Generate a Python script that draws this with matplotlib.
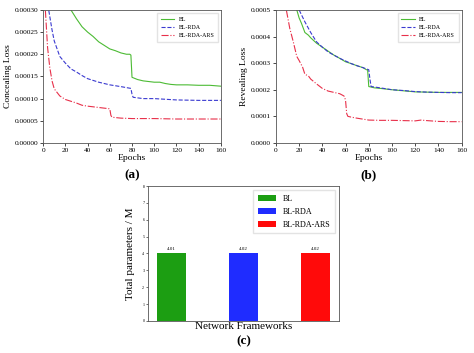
import numpy as np
import matplotlib
matplotlib.use("Agg")
import matplotlib.pyplot as plt

plt.rcParams['font.family'] = ['Liberation Serif', 'DejaVu Serif']

labels = ["BL", "BL-RDA", "BL-RDA-ARS"]

# (a) concealing loss
conc_bl_x = [1, 10, 20, 25, 30, 35, 40, 45, 50, 55, 60, 65, 70, 75, 78, 79, 80, 85, 90, 100, 105, 110, 115, 120, 130, 140, 150, 155, 160]
conc_bl_y = [0.00060, 0.00042, 0.00033, 0.000300, 0.000280, 0.000262, 0.000250, 0.000240, 0.000228, 0.000220, 0.000212, 0.000208, 0.000203, 0.000200, 0.000200, 0.000198, 0.000148, 0.000143, 0.000140, 0.000137, 0.000137, 0.000134, 0.000132, 0.000131, 0.000131, 0.000130, 0.000130, 0.000129, 0.000128]
conc_rda_x = [1, 3, 5, 8, 10, 15, 20, 25, 30, 35, 40, 50, 60, 70, 79, 80, 81, 90, 100, 120, 140, 160]
conc_rda_y = [0.00040, 0.00033, 0.000300, 0.000255, 0.000230, 0.000195, 0.000180, 0.000167, 0.000160, 0.000152, 0.000145, 0.000137, 0.000131, 0.000127, 0.000123, 0.000110, 0.000103, 0.000100, 0.000100, 0.000097, 0.000096, 0.000096]
conc_ars_x = [1, 2, 4, 6, 8, 10, 15, 20, 25, 30, 35, 40, 50, 60, 61, 62, 70, 80, 100, 120, 140, 160]
conc_ars_y = [0.00036, 0.000300, 0.000215, 0.000170, 0.000140, 0.000122, 0.000106, 0.000098, 0.000094, 0.000090, 0.000085, 0.000083, 0.000080, 0.000077, 0.000062, 0.000058, 0.000056, 0.000055, 0.000055, 0.000054, 0.000054, 0.000054]

# (b) revealing loss
rev_bl_x = [1, 10, 18, 20, 22, 25, 28, 30, 35, 40, 45, 50, 55, 60, 65, 70, 75, 78, 79, 80, 85, 90, 100, 110, 120, 130, 140, 150, 160]
rev_bl_y = [0.00080, 0.00060, 0.000500, 0.000470, 0.000450, 0.000415, 0.000405, 0.000395, 0.000375, 0.000360, 0.000345, 0.000330, 0.000318, 0.000305, 0.000298, 0.000290, 0.000283, 0.000275, 0.000275, 0.000212, 0.000207, 0.000205, 0.000200, 0.000196, 0.000192, 0.000191, 0.000190, 0.000190, 0.000190]
rev_rda_x = [1, 10, 20, 25, 30, 35, 40, 45, 50, 55, 60, 65, 70, 75, 80, 81, 82, 90, 100, 110, 120, 130, 140, 150, 160]
rev_rda_y = [0.00080, 0.00062, 0.000500, 0.000455, 0.000415, 0.000380, 0.000360, 0.000342, 0.000330, 0.000318, 0.000308, 0.000298, 0.000290, 0.000283, 0.000275, 0.000240, 0.000212, 0.000207, 0.000200, 0.000197, 0.000193, 0.000191, 0.000190, 0.000189, 0.000189]
rev_ars_x = [1, 5, 9, 12, 15, 18, 20, 23, 25, 28, 30, 35, 40, 45, 50, 55, 58, 59, 60, 61, 62, 65, 70, 80, 90, 100, 110, 120, 125, 130, 140, 150, 160]
rev_ars_y = [0.00080, 0.00062, 0.000500, 0.000430, 0.000380, 0.000325, 0.000310, 0.000285, 0.000258, 0.000252, 0.000240, 0.000222, 0.000205, 0.000195, 0.000190, 0.000185, 0.000178, 0.000175, 0.000160, 0.000110, 0.000100, 0.000097, 0.000093, 0.000086, 0.000085, 0.000085, 0.000084, 0.000083, 0.000086, 0.000084, 0.000081, 0.000080, 0.000080]

# (c) parameters
params = [4.01, 4.02, 4.02]

line_colors = ["#4cbb34", "#3a3ad0", "#e8304a"]
line_styles = ["-", "--", "-."]
bar_colors = ["#1c9e12", "#1f2cff", "#ff0a0a"]

fig = plt.figure(figsize=(4.74, 3.53), dpi=100)

def loss_panel(rect, series, ylabel, ylim, yticks, fmt, tag):
    ax = fig.add_axes(rect)
    for (x, y), lab, c, ls in zip(series, labels, line_colors, line_styles):
        ax.plot(x, y, color=c, ls=ls, lw=0.8, label=lab)
    ax.set_xlim(0, 160)
    ax.set_ylim(*ylim)
    ax.set_xticks(range(0, 161, 20))
    ax.set_yticks(yticks)
    ax.set_yticklabels([fmt % t for t in yticks])
    ax.tick_params(labelsize=5.3, length=2, width=0.5, pad=1.5)
    for s in ax.spines.values():
        s.set_linewidth(0.6)
        s.set_color("#555555")
    ax.set_xlabel("Epochs", fontsize=6.8, labelpad=1)
    ax.set_ylabel(ylabel, fontsize=6.8, labelpad=2)
    ax.legend(loc="upper right", fontsize=4.3, handlelength=2.2, borderpad=0.6,
              labelspacing=0.5, frameon=True, edgecolor="#dddddd", fancybox=False)
    ax.text(0.5, -0.2, tag, transform=ax.transAxes, ha="center", va="top",
            fontsize=9.5, fontweight="bold")
    return ax

loss_panel([0.091, 0.595, 0.375, 0.377],
           [(conc_bl_x, conc_bl_y), (conc_rda_x, conc_rda_y), (conc_ars_x, conc_ars_y)],
           "Concealing Loss", (0, 0.0003), np.arange(0, 0.00031, 0.00005), "%.5f", "(a)")
loss_panel([0.582, 0.595, 0.392, 0.377],
           [(rev_bl_x, rev_bl_y), (rev_rda_x, rev_rda_y), (rev_ars_x, rev_ars_y)],
           "Revealing Loss", (0, 0.0005), np.arange(0, 0.00051, 0.0001), "%.4f", "(b)")

axc = fig.add_axes([0.312, 0.091, 0.403, 0.382])
xpos = np.arange(len(params))
bars = axc.bar(xpos, params, width=0.4, color=bar_colors, label=labels)
for b, v in zip(bars, params):
    axc.text(b.get_x() + b.get_width() / 2, v + 0.12, "%.2f" % v,
             ha="center", va="bottom", fontsize=3.6)
axc.set_ylim(0, 8)
axc.set_yticks(range(0, 9))
axc.set_xticks([])
axc.tick_params(labelsize=3, length=1.5, width=0.4, pad=1)
for s in axc.spines.values():
    s.set_linewidth(0.6)
    s.set_color("#555555")
axc.set_xlabel("Network Frameworks", fontsize=8, labelpad=1)
axc.set_ylabel("Total parameters / M", fontsize=8, labelpad=5)
axc.legend(loc="upper right", fontsize=5.8, handlelength=2.2, handleheight=0.8,
           labelspacing=0.6, borderpad=0.6, frameon=True, edgecolor="#dddddd",
           fancybox=False)
axc.text(0.5, -0.11, "(c)", transform=axc.transAxes, ha="center", va="top",
         fontsize=9.5, fontweight="bold")

fig.savefig("out.png", dpi=100)
